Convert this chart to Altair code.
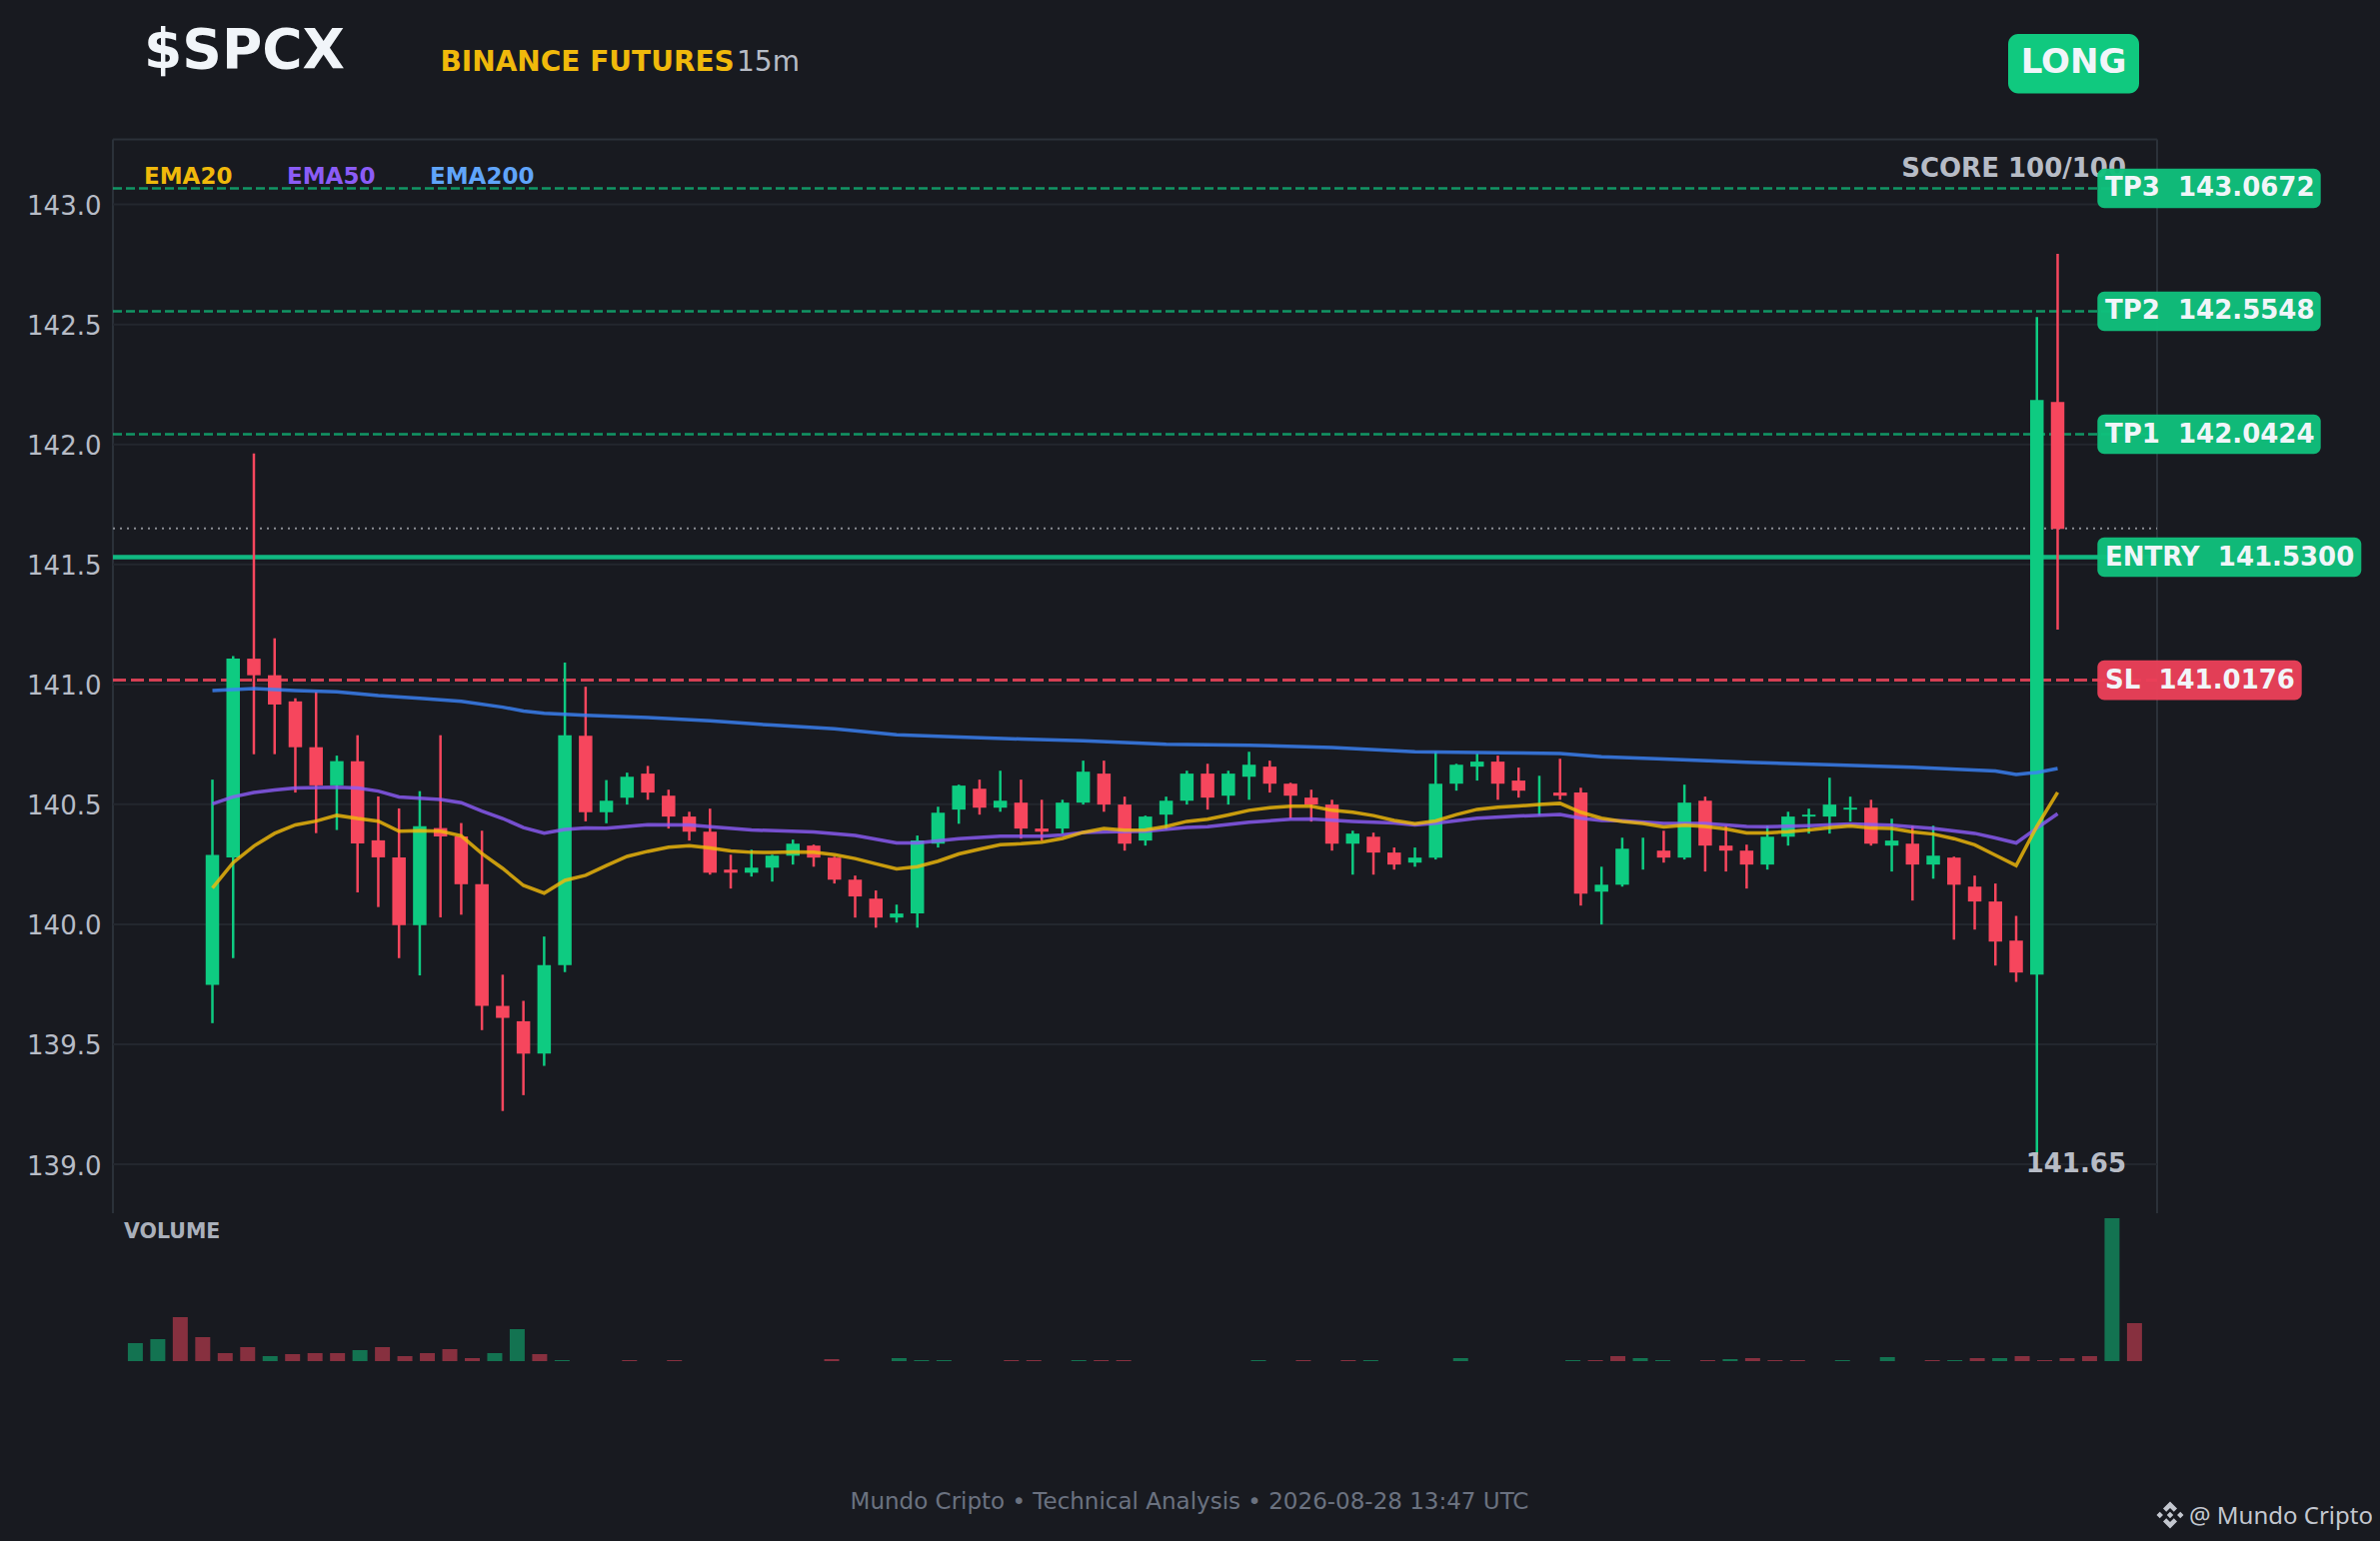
import altair as alt
import pandas as pd

opens = [139.748,140.279,141.107,141.038,140.929,140.738,140.579,140.680,140.350,140.279,139.997,140.401,140.366,140.167,139.660,139.596,139.461,139.830,140.786,140.467,
140.528,140.628,140.536,140.449,140.386,140.228,140.215,140.236,140.286,140.328,140.278,140.186,140.107,140.028,140.045,140.336,140.478,140.565,140.486,140.507,
140.399,140.399,140.507,140.628,140.499,140.349,140.457,140.515,140.628,140.536,140.615,140.657,140.586,140.528,140.499,140.336,140.365,140.299,140.257,140.278,
140.586,140.657,140.678,140.599,140.460,140.549,140.549,140.136,140.165,140.270,140.307,140.278,140.515,140.328,140.307,140.249,140.365,140.449,140.449,140.478,
140.486,140.328,140.336,140.249,140.278,140.157,140.095,139.932,139.790,142.177]
highs = [140.603,141.118,141.962,141.192,140.942,140.969,140.703,140.788,140.533,140.483,140.555,140.788,140.422,140.390,139.790,139.681,139.949,141.091,140.990,140.601,
140.632,140.660,140.561,140.469,140.482,140.290,140.311,140.290,140.353,140.332,140.282,140.203,140.141,140.082,140.370,140.490,140.582,140.603,140.640,140.603,
140.519,140.519,140.682,140.682,140.532,140.453,140.532,140.640,140.669,140.640,140.719,140.682,140.590,140.561,140.519,140.390,140.382,140.320,140.320,140.719,
140.669,140.711,140.703,140.653,140.619,140.690,140.569,140.240,140.361,140.361,140.390,140.582,140.532,140.411,140.332,140.411,140.469,140.482,140.611,140.532,
140.519,140.440,140.411,140.411,140.282,140.203,140.170,140.035,142.531,142.794]
lows = [139.588,139.859,140.709,140.709,140.549,140.380,140.393,140.133,140.072,139.859,139.787,140.029,140.040,139.559,139.222,139.288,139.410,139.801,140.429,140.421,
140.499,140.519,140.399,140.349,140.207,140.149,140.199,140.178,140.249,140.240,140.170,140.028,139.986,140.007,139.986,140.320,140.419,140.457,140.469,140.357,
140.349,140.378,140.499,140.469,140.307,140.328,140.395,140.499,140.478,140.499,140.519,140.549,140.440,140.428,140.307,140.207,140.207,140.228,140.240,140.270,
140.557,140.599,140.519,140.528,140.453,140.519,140.078,139.999,140.157,140.228,140.257,140.270,140.220,140.220,140.149,140.228,140.328,140.378,140.378,140.428,
140.328,140.220,140.099,140.190,139.936,139.978,139.828,139.760,139.040,141.228]
closes = [140.289,141.107,141.038,140.916,140.738,140.579,140.680,140.337,140.279,139.997,140.409,140.366,140.167,139.660,139.610,139.461,139.830,140.788,140.467,140.515,
140.615,140.549,140.449,140.386,140.215,140.215,140.236,140.286,140.336,140.278,140.186,140.116,140.028,140.045,140.349,140.465,140.578,140.486,140.515,140.399,
140.386,140.507,140.636,140.499,140.336,140.449,140.515,140.628,140.528,140.628,140.665,140.586,140.536,140.499,140.336,140.378,140.299,140.249,140.278,140.586,
140.665,140.678,140.586,140.557,140.460,140.536,140.128,140.165,140.315,140.270,140.278,140.507,140.328,140.307,140.249,140.365,140.449,140.457,140.499,140.486,
140.336,140.349,140.249,140.286,140.165,140.095,139.928,139.799,142.185,141.648]
volumes = [18,22,44,24,8,14,5,7,8,8,11,14,5,8,12,3,8,32,7,1,0,0,1,0,1,0,0,0,0,0,0,2,0,0,3,1,1,0,0,1,
1,0,1,1,1,0,0,0,0,0,1,0,1,0,1,1,0,0,0,3,0,0,0,0,1,1,5,3,1,0,1,2,3,1,1,0,1,0,4,0,1,1,3,3,5,1,3,5,143,38]

ema20 = [140.151,140.257,140.326,140.379,140.414,140.430,140.454,140.441,140.430,140.388,140.390,140.388,140.369,140.295,140.233,140.162,140.130,140.183,140.204,140.245,
140.283,140.304,140.321,140.328,140.318,140.306,140.300,140.299,140.302,140.300,140.290,140.274,140.252,140.231,140.240,140.263,140.293,140.313,140.332,140.336,
140.342,140.358,140.383,140.399,140.392,140.393,140.408,140.429,140.438,140.456,140.475,140.486,140.492,140.492,140.475,140.467,140.453,140.433,140.419,140.431,
140.457,140.479,140.488,140.493,140.499,140.504,140.467,140.442,140.429,140.420,140.406,140.413,140.408,140.397,140.381,140.381,140.386,140.393,140.403,140.410,
140.401,140.399,140.385,140.376,140.357,140.331,140.288,140.245,140.408,140.550]
ema50_idx = [0,1,2,3,4,6,7,8,9,11,12,13,14,15,16,17,18,19,20,21,23,24,26,29,31,33,34,36,38,40,41,42,43,45,47,48,50,52,53,55,57,58,59,61,63,65,66,67,68,70,72,74,75,77,79,81,83,85,86,87,88,89]
ema50 = [140.502,140.531,140.549,140.560,140.568,140.571,140.568,140.555,140.531,140.520,140.507,140.472,140.441,140.403,140.380,140.395,140.401,140.400,140.408,140.415,140.414,140.407,140.393,140.385,140.370,140.339,140.339,140.357,140.367,140.367,140.372,140.383,140.385,140.388,140.404,140.407,140.425,140.438,140.439,140.429,140.422,140.414,140.421,140.442,140.451,140.458,140.442,140.433,140.432,140.420,140.420,140.408,140.407,140.411,140.418,140.413,140.399,140.379,140.360,140.339,140.401,140.461]
ema200_idx = [0,2,4,6,8,10,12,14,15,16,18,21,24,27,30,33,36,39,42,46,50,54,58,62,65,67,70,74,78,82,86,87,88,89]
ema200 = [140.974,140.982,140.974,140.969,140.953,140.942,140.929,140.905,140.889,140.879,140.871,140.862,140.848,140.830,140.815,140.790,140.780,140.772,140.765,140.750,140.746,140.737,140.719,140.715,140.712,140.698,140.689,140.675,140.665,140.655,140.639,140.624,140.633,140.649]

y_ticks = [139.0,139.5,140.0,140.5,141.0,141.5,142.0,142.5,143.0]
tp_levels = [143.0672,142.5548,142.0424]
tp_names = ["TP3","TP2","TP1"]
entry_price = 141.53
sl_price = 141.0176
last_price = 141.65

BG="#181a20"; GREEN="#0ecb81"; RED="#f6465d"; BADGE_G="#10c07c"; BADGE_R="#ea4058"; GREY="#b7bcc6"
FONT="DejaVu Sans"
OX=113; OY=139.5; W=2045; H=1074.5   # plot frame in page pixels
NB="\u00a0\u00a0"

cdf = pd.DataFrame(dict(i=range(90),o=opens,h=highs,l=lows,c=closes,v=volumes))
cdf["top"]=cdf[["o","c"]].max(axis=1); cdf["bot"]=cdf[["o","c"]].min(axis=1)
cdf["up"]=[("u" if c>=o else "d") for o,c in zip(opens,closes)]

xs = alt.Scale(domain=[0,89],range=[99.5,1945.5],padding=0,nice=False,zero=False)
ys = alt.Scale(domain=[138.796,143.271],range=[H,0],nice=False,zero=False,padding=0)
color = alt.Color("up:N",scale=alt.Scale(domain=["u","d"],range=[GREEN,RED]),legend=None)
X = alt.X("i:Q",scale=xs,axis=None)

base_axis = alt.Chart(pd.DataFrame({"p":y_ticks})).mark_rule(opacity=0).encode(
    y=alt.Y("p:Q",scale=ys,title=None,axis=alt.Axis(values=y_ticks,format=".1f",domain=False,ticks=False,grid=False,
        labelColor=GREY,labelFont=FONT,labelFontSize=26,labelPadding=12,labelOffset=2)))

def px(v): return alt.value(v-OX)
def py(v): return alt.value(v-OY)
one = pd.DataFrame({"a":[0]})
frame = [
    alt.Chart(one).mark_rule(color="#2b3139",strokeWidth=2).encode(x=alt.value(0),x2=alt.value(W),y=alt.value(0)),
    alt.Chart(one).mark_rule(color="#2b3139",strokeWidth=2).encode(x=alt.value(0),y=alt.value(0),y2=alt.value(H)),
    alt.Chart(one).mark_rule(color="#2b3139",strokeWidth=2).encode(x=alt.value(W),y=alt.value(0),y2=alt.value(H)),
]
def hline(df,**kw):
    return alt.Chart(df).mark_rule(**kw).encode(y=alt.Y("p:Q",scale=ys),x=alt.value(0),x2=alt.value(W))

tp_df = pd.DataFrame({"p":tp_levels})
rules = [
    hline(pd.DataFrame({"p":y_ticks}),color="#23272e",strokeWidth=2),
    hline(pd.DataFrame({"p":[last_price]}),color="#8a8d93",strokeWidth=2,strokeDash=[2,5]),
    hline(tp_df,color=GREEN,opacity=0.7,strokeWidth=2.5,strokeDash=[9,4]),
    hline(pd.DataFrame({"p":[entry_price]}),color="#10b981",strokeWidth=4.5),
    hline(pd.DataFrame({"p":[sl_price]}),color=RED,opacity=0.85,strokeWidth=3,strokeDash=[13,5]),
]
wicks = alt.Chart(cdf).mark_rule(strokeWidth=2.5).encode(x=X,y=alt.Y("l:Q",scale=ys),y2="h:Q",color=color)
bodies = alt.Chart(cdf).mark_bar(size=13.5).encode(x=X,y=alt.Y("bot:Q",scale=ys),y2="top:Q",color=color)
def ema(idx,vals,col):
    return alt.Chart(pd.DataFrame({"i":idx,"p":vals})).mark_line(color=col,strokeWidth=3.5,opacity=0.82).encode(x=X,y=alt.Y("p:Q",scale=ys))
emas = [ema(ema200_idx,ema200,"#3b82f6"),ema(ema50_idx,ema50,"#8b5cf6"),ema(list(range(90)),ema20,"#f0b90b")]

def text(s,x,y,size,col,weight="normal",align="left",font=FONT):
    return alt.Chart(pd.DataFrame({"t":[s]})).mark_text(font=font,fontSize=size,color=col,fontWeight=weight,align=align,baseline="alphabetic").encode(
        text="t:N",x=px(x),y=py(y))

texts = [
    text("$SPCX",144,68,55,"#f1f5f9","bold"),
    text("BINANCE FUTURES",440.5,70.5,28,"#f0b90b","bold"),
    text("15m",737,70.5,28,GREY),
    text("EMA20",144,184,23,"#f0b90b","bold"),
    text("EMA50",287,184,23,"#8b5cf6","bold"),
    text("EMA200",430,184,23,"#60a5fa","bold"),
    text("SCORE 100/100",2127,176.5,26,GREY,"bold","right"),
    text("141.65",2127,1172.5,26,GREY,"bold","right"),
    text("VOLUME",124,1239,20.5,"#aab0bb","bold"),
    text("Mundo Cripto • Technical Analysis • 2026-08-28 13:47 UTC",1190,1509.5,23,"#6b7280","normal","center"),
    text("@ Mundo Cripto",2190,1524.5,24,"#c3c7cf",font="Noto Sans"),
]

long_badge = alt.Chart(one).mark_bar(color="#10c97f",cornerRadius=10).encode(x=px(2009),x2=px(2140),y=py(34),y2=py(93.5))
long_text = text("LONG",2074.5,73,34,"#f1f5f9","bold","center")

labels = pd.DataFrame({
    "t":[f"{n}{NB}{v:.4f}" for n,v in zip(tp_names,tp_levels)]+[f"ENTRY{NB}{entry_price:.4f}",f"SL{NB}{sl_price:.4f}"],
    "p":tp_levels+[entry_price,sl_price],
    "kind":["g","g","g","g","r"],
    "right":[2321.7,2321.7,2321.7,2362.3,2302.7],
})
labels["top"]=labels.p+0.0825; labels["bot"]=labels.p-0.0825
badges=[]
for _,r in labels.iterrows():
    d=pd.DataFrame([r])
    badges.append(alt.Chart(d).mark_bar(color=BADGE_G if r.kind=="g" else BADGE_R,opacity=0.96,cornerRadius=7).encode(
        x=px(2098.3),x2=px(r.right),y=alt.Y("top:Q",scale=ys),y2="bot:Q"))
badge_text = alt.Chart(labels).mark_text(font=FONT,fontSize=26,fontWeight="bold",color="#f1f5f9",align="left",baseline="middle").encode(
    text="t:N",x=px(2106),y=alt.Y("p:Q",scale=ys))

logo_path = "M0,-1 L0.52,-0.48 L0.28,-0.24 L0,-0.52 L-0.28,-0.24 L-0.52,-0.48 Z M0,1 L0.52,0.48 L0.28,0.24 L0,0.52 L-0.28,0.24 L-0.52,0.48 Z M-0.76,-0.24 L-0.52,0 L-0.76,0.24 L-1,0 Z M0.76,-0.24 L1,0 L0.76,0.24 L0.52,0 Z M0,-0.24 L0.24,0 L0,0.24 L-0.24,0 Z"
logo = alt.Chart(one).mark_point(shape=logo_path,size=729,filled=True,color="#c3c7cf",opacity=1).encode(x=px(2171),y=py(1516))

price = alt.layer(base_axis,*frame,*rules,wicks,bodies,*emas,*texts,long_badge,long_text,*badges,badge_text,logo)

xv = alt.Scale(domain=[0,89],range=[22.4,2022.4],padding=0,nice=False,zero=False)
yv = alt.Scale(domain=[0,143],range=[1222.5,1079.5],nice=False,zero=False,padding=0)
vol = alt.Chart(cdf).mark_bar(size=15,opacity=0.5,orient="vertical").encode(
    x=alt.X("i:Q",scale=xv,axis=None),
    y=alt.Y("v:Q",scale=yv,axis=None,stack=None),
    color=color)

chart = alt.layer(vol,price).resolve_scale(x="independent",y="independent",color="shared").properties(
    width=W,height=H,background=BG,
    padding={"left":OX-8,"top":OY-8,"right":2381-8-OX-W,"bottom":1542-8-OY-H},
    autosize=alt.AutoSizeParams(type="none",contains="content"),
).configure_view(stroke=None)

chart.save("out.html", embed_options={"renderer": "svg", "actions": False, "defaultStyle": "html,body{background:#181a20}"})
